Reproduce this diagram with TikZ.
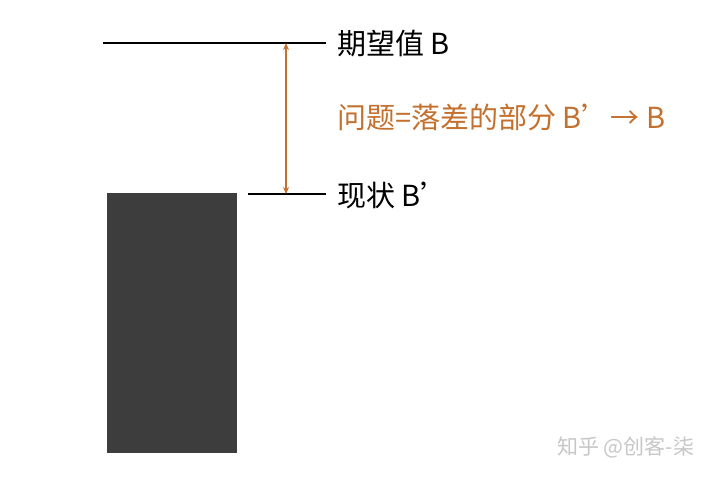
\documentclass[tikz,border=0pt]{standalone}
\usepackage{fontspec}
\setmainfont{Noto Sans CJK SC}
\usetikzlibrary{arrows.meta}
\definecolor{orng}{HTML}{C4702E}
\definecolor{darkbar}{HTML}{3D3D3D}
\tikzset{
  level/.style={draw=black, line width=1.3pt},
  lbl/.style={anchor=west, inner sep=0pt, font=\fontsize{29}{33}\selectfont},
  wm/.style={anchor=west, inner sep=0pt, text=black!22, font=\fontsize{21}{24}\selectfont},
}
\begin{document}
\begin{tikzpicture}[x=1pt,y=-1pt]
\useasboundingbox (0,0) rectangle (720,479);
\fill[white] (0,0) rectangle (720,479);
\fill[darkbar] (107,193) rectangle (237,453);
\coordinate (t0) at (103,43);
\coordinate (t1) at (326,43);
\coordinate (b0) at (248,194);
\coordinate (b1) at (326,194);
\draw[level] (t0) -- (t1);
\draw[level] (b0) -- (b1);
\coordinate (aT) at (286,43);
\coordinate (aB) at (286,194);
\draw[orng, line width=1.3pt, {Stealth[length=7pt,width=6pt]}-{Stealth[length=7pt,width=6pt]}] (aT) -- (aB);
\node[lbl] (goal) at (337,44) {期望值 B};
\node[lbl, text=orng] (gap) at (337,117) {问题=落差的部分 B’→ B};
\node[lbl] (now) at (337,195) {现状 B’};
\node[wm] (mark) at (557,447) {知乎 @创客-柒};
\end{tikzpicture}
\end{document}
